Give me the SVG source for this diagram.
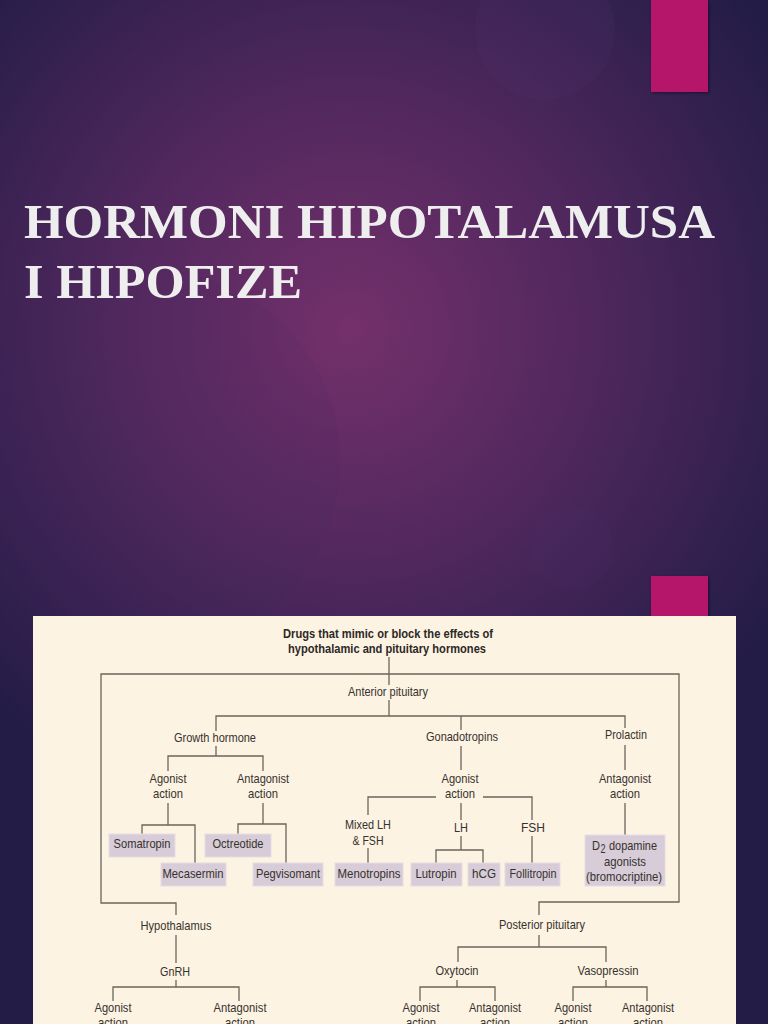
<svg xmlns="http://www.w3.org/2000/svg" width="768" height="1024" viewBox="0 0 768 1024">
<defs>
<radialGradient id="bg" cx="350" cy="330" r="520" gradientUnits="userSpaceOnUse">
<stop offset="0" stop-color="#74306b"/>
<stop offset="0.45" stop-color="#51285e"/>
<stop offset="1" stop-color="#221c46"/>
</radialGradient>
<filter id="sh" x="-20%" y="-20%" width="140%" height="140%"><feDropShadow dx="1" dy="1" stdDeviation="1.5" flood-color="#000" flood-opacity="0.5"/></filter>
<style>
.t{font-family:"Liberation Sans",Arial,sans-serif;font-size:13px;fill:#36322e;text-anchor:middle}
.h{font-family:"Liberation Sans",Arial,sans-serif;font-size:13px;font-weight:bold;fill:#2b2826;text-anchor:middle}
.ttl{font-family:"Liberation Serif","Times New Roman",serif;font-size:48px;font-weight:bold;fill:#eeeeee}
.box{fill:#d7ccd7;stroke:#e6dde4;stroke-width:1}
.ln{fill:none;stroke:#6d655c;stroke-width:1.3}
</style>
</defs>
<rect x="0" y="0" width="768" height="1024" fill="url(#bg)"/>
<circle cx="545" cy="30" r="70" fill="#5a3a7a" opacity="0.12"/>
<circle cx="150" cy="460" r="190" fill="#3a2560" opacity="0.07"/>
<circle cx="572" cy="548" r="42" fill="#4a3275" opacity="0.12"/>
<rect x="651" y="0" width="57" height="92" fill="#b5166a" filter="url(#sh)"/>
<rect x="651" y="576" width="57" height="45" fill="#b5166a" filter="url(#sh)"/>
<text class="ttl" x="24" y="238" textLength="691" lengthAdjust="spacingAndGlyphs">HORMONI HIPOTALAMUSA</text>
<text class="ttl" x="24" y="298" textLength="278" lengthAdjust="spacingAndGlyphs">I HIPOFIZE</text>
<rect x="33" y="616" width="703" height="408" fill="#fdf3e3"/>

<g id="connectors">
<path class="ln" d="M389 657 V685 M389 700 V716"/>
<path class="ln" d="M176 915 V903 H101 V674 H679 V902 H539 V915"/>
<path class="ln" d="M216 731 V716 H625 V728 M461 716 V730"/>
<path class="ln" d="M216 746 V756 M168 771 V756 H263 V771"/>
<path class="ln" d="M168 803 V825 M142 834 V825 H195 V863 M263 803 V824 M238 834 V824 H286 V863"/>
<path class="ln" d="M461 746 V770 M461 803 V820 M461 836 V850 M436 863 V850 H483 V863"/>
<path class="ln" d="M368 815 V797 H436 M483 797 H532 V820 M368 848 V863 M532 836 V863"/>
<path class="ln" d="M625 745 V770 M625 803 V835"/>
<path class="ln" d="M176 935 V963 M176 980 V987 M113 1001 V987 H239 V1001"/>
<path class="ln" d="M539 935 V947 M458 962 V947 H606 V962 M457 980 V987 M420 1001 V987 H495 V1001 M606 980 V987 M573 1001 V987 H647 V1001"/>
</g>

<g id="title">
<text class="h" x="388" y="638" textLength="210" lengthAdjust="spacingAndGlyphs">Drugs that mimic or block the effects of</text>
<text class="h" x="387" y="653" textLength="198" lengthAdjust="spacingAndGlyphs">hypothalamic and pituitary hormones</text>
</g>
<g id="anterior"><text class="t" x="388" y="696" textLength="80" lengthAdjust="spacingAndGlyphs">Anterior pituitary</text></g>
<g id="growth-hormone"><text class="t" x="215" y="742" textLength="82" lengthAdjust="spacingAndGlyphs">Growth hormone</text></g>
<g id="gonadotropins"><text class="t" x="462" y="741" textLength="72" lengthAdjust="spacingAndGlyphs">Gonadotropins</text></g>
<g id="prolactin"><text class="t" x="626" y="739" textLength="42" lengthAdjust="spacingAndGlyphs">Prolactin</text></g>

<g id="gh-agonist"><text class="t" x="168" y="783" textLength="37" lengthAdjust="spacingAndGlyphs">Agonist</text><text class="t" x="168" y="798" textLength="30" lengthAdjust="spacingAndGlyphs">action</text></g>
<g id="gh-antagonist"><text class="t" x="263" y="783" textLength="52" lengthAdjust="spacingAndGlyphs">Antagonist</text><text class="t" x="263" y="798" textLength="30" lengthAdjust="spacingAndGlyphs">action</text></g>
<g id="gn-agonist"><text class="t" x="460" y="783" textLength="37" lengthAdjust="spacingAndGlyphs">Agonist</text><text class="t" x="460" y="798" textLength="30" lengthAdjust="spacingAndGlyphs">action</text></g>
<g id="pr-antagonist"><text class="t" x="625" y="783" textLength="52" lengthAdjust="spacingAndGlyphs">Antagonist</text><text class="t" x="625" y="798" textLength="30" lengthAdjust="spacingAndGlyphs">action</text></g>

<g id="somatropin"><rect class="box" x="109" y="834" width="66" height="23"/><text class="t" x="142" y="848" textLength="57" lengthAdjust="spacingAndGlyphs">Somatropin</text></g>
<g id="mecasermin"><rect class="box" x="161" y="863" width="65" height="23"/><text class="t" x="193" y="878" textLength="61" lengthAdjust="spacingAndGlyphs">Mecasermin</text></g>
<g id="octreotide"><rect class="box" x="205" y="834" width="66" height="23"/><text class="t" x="238" y="848" textLength="51" lengthAdjust="spacingAndGlyphs">Octreotide</text></g>
<g id="pegvisomant"><rect class="box" x="253" y="863" width="70" height="23"/><text class="t" x="288" y="878" textLength="64" lengthAdjust="spacingAndGlyphs">Pegvisomant</text></g>

<g id="mixed"><text class="t" x="368" y="829" textLength="46" lengthAdjust="spacingAndGlyphs">Mixed LH</text><text class="t" x="368" y="845" textLength="31" lengthAdjust="spacingAndGlyphs">&amp; FSH</text></g>
<g id="lh"><text class="t" x="461" y="832" textLength="14" lengthAdjust="spacingAndGlyphs">LH</text></g>
<g id="fsh"><text class="t" x="533" y="832" textLength="24" lengthAdjust="spacingAndGlyphs">FSH</text></g>
<g id="menotropins"><rect class="box" x="335" y="863" width="68" height="23"/><text class="t" x="369" y="878" textLength="63" lengthAdjust="spacingAndGlyphs">Menotropins</text></g>
<g id="lutropin"><rect class="box" x="411" y="863" width="51" height="23"/><text class="t" x="436" y="878" textLength="41" lengthAdjust="spacingAndGlyphs">Lutropin</text></g>
<g id="hcg"><rect class="box" x="468" y="863" width="32" height="23"/><text class="t" x="484" y="878" textLength="24" lengthAdjust="spacingAndGlyphs">hCG</text></g>
<g id="follitropin"><rect class="box" x="505" y="863" width="55" height="23"/><text class="t" x="533" y="878" textLength="47" lengthAdjust="spacingAndGlyphs">Follitropin</text></g>
<g id="d2"><rect class="box" x="585" y="835" width="80" height="51"/>
<text class="t" x="596" y="850" textLength="8" lengthAdjust="spacingAndGlyphs">D</text><text class="t" x="603" y="853" font-size="9" textLength="5" lengthAdjust="spacingAndGlyphs">2</text><text class="t" x="633" y="850" textLength="48" lengthAdjust="spacingAndGlyphs">dopamine</text>
<text class="t" x="625" y="866" textLength="42" lengthAdjust="spacingAndGlyphs">agonists</text>
<text class="t" x="624" y="881" textLength="76" lengthAdjust="spacingAndGlyphs">(bromocriptine)</text></g>

<g id="hypothalamus"><text class="t" x="176" y="930" textLength="71" lengthAdjust="spacingAndGlyphs">Hypothalamus</text></g>
<g id="gnrh"><text class="t" x="175" y="976" textLength="30" lengthAdjust="spacingAndGlyphs">GnRH</text></g>
<g id="gnrh-agonist"><text class="t" x="113" y="1012" textLength="37" lengthAdjust="spacingAndGlyphs">Agonist</text><text class="t" x="113" y="1027" textLength="30" lengthAdjust="spacingAndGlyphs">action</text></g>
<g id="gnrh-antagonist"><text class="t" x="240" y="1012" textLength="53" lengthAdjust="spacingAndGlyphs">Antagonist</text><text class="t" x="240" y="1027" textLength="30" lengthAdjust="spacingAndGlyphs">action</text></g>

<g id="posterior"><text class="t" x="542" y="929" textLength="86" lengthAdjust="spacingAndGlyphs">Posterior pituitary</text></g>
<g id="oxytocin"><text class="t" x="457" y="975" textLength="43" lengthAdjust="spacingAndGlyphs">Oxytocin</text></g>
<g id="vasopressin"><text class="t" x="608" y="975" textLength="61" lengthAdjust="spacingAndGlyphs">Vasopressin</text></g>
<g id="ox-agonist"><text class="t" x="421" y="1012" textLength="37" lengthAdjust="spacingAndGlyphs">Agonist</text><text class="t" x="421" y="1027" textLength="30" lengthAdjust="spacingAndGlyphs">action</text></g>
<g id="ox-antagonist"><text class="t" x="495" y="1012" textLength="52" lengthAdjust="spacingAndGlyphs">Antagonist</text><text class="t" x="495" y="1027" textLength="30" lengthAdjust="spacingAndGlyphs">action</text></g>
<g id="va-agonist"><text class="t" x="573" y="1012" textLength="37" lengthAdjust="spacingAndGlyphs">Agonist</text><text class="t" x="573" y="1027" textLength="30" lengthAdjust="spacingAndGlyphs">action</text></g>
<g id="va-antagonist"><text class="t" x="648" y="1012" textLength="52" lengthAdjust="spacingAndGlyphs">Antagonist</text><text class="t" x="648" y="1027" textLength="30" lengthAdjust="spacingAndGlyphs">action</text></g>
</svg>
